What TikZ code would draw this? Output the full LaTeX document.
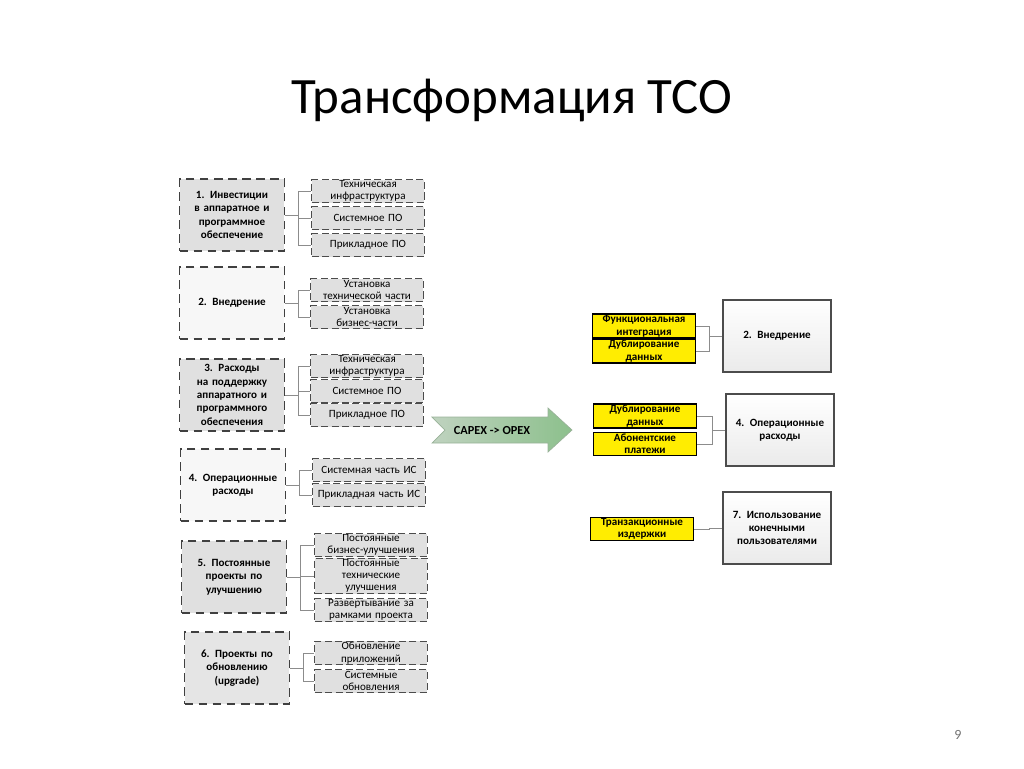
\documentclass[tikz,border=0pt]{standalone}
\usepackage{fontspec}
\setmainfont{Carlito}
\usetikzlibrary{positioning}
\tikzset{
  mainbox/.style={draw=black!75,dashed,dash pattern=on 5pt off 3pt,line width=0.9pt,align=center,
    minimum width=2.1cm,minimum height=1.44cm,text width=1.8cm,font=\fontsize{6.3}{7.6}\selectfont\bfseries},
  subbox/.style={draw=black!70,dash pattern=on 4pt off 2pt,line width=0.8pt,fill=black!12,align=center,
    minimum width=2.26cm,minimum height=0.46cm,text width=2.2cm,inner sep=0.5pt,font=\fontsize{6.3}{7}\selectfont},
  yelbox/.style={draw=black,line width=1pt,fill=yellow!95!orange,align=center,
    minimum width=2.06cm,minimum height=0.46cm,text width=2cm,inner sep=0.5pt,font=\fontsize{6.3}{7}\selectfont\bfseries},
  rbox/.style={draw=black!70,line width=0.7pt,top color=white,bottom color=black!8,align=center,
    minimum width=2.16cm,minimum height=1.44cm,text width=1.9cm,font=\fontsize{6.3}{7.6}\selectfont\bfseries},
  link/.style={draw=black!45,line width=0.5pt}
}
\begin{document}
\begin{tikzpicture}[x=0.02cm,y=-0.02cm]
  % рамка страницы
  \useasboundingbox (0,0) rectangle (1024,768);

  % заголовок
  \node (title) at (512,100) {\fontsize{29}{34}\selectfont Трансформация TCO};

  % левая колонка
  \node[mainbox,fill=black!12] (m1) at (232,215) {1. Инвестиции в аппаратное и программное обеспечение};
  \node[mainbox,fill=black!3] (m2) at (232,303) {2. Внедрение};
  \node[mainbox,fill=black!12] (m3) at (232,395) {3. Расходы на поддержку аппаратного и программного обеспечения};
  \node[mainbox,fill=black!3] (m4) at (233,485) {4. Операционные расходы};
  \node[mainbox,fill=black!12] (m5) at (234,577) {5. Постоянные проекты по улучшению};
  \node[mainbox,fill=black!10] (m6) at (237,668) {6. Проекты по обновлению (upgrade)};

  % подпункты
  \node[subbox] (s11) at (368,191) {Техническая инфраструктура};
  \node[subbox] (s12) at (368,218) {Системное ПО};
  \node[subbox] (s13) at (368,245) {Прикладное ПО};
  \node[subbox] (s21) at (367,290) {Установка технической части};
  \node[subbox] (s22) at (367,317) {Установка бизнес-части};
  \node[subbox] (s31) at (367,366) {Техническая инфраструктура};
  \node[subbox] (s32) at (367,391) {Системное ПО};
  \node[subbox] (s33) at (367,415) {Прикладное ПО};
  \node[subbox] (s41) at (369,470) {Системная часть ИС};
  \node[subbox] (s42) at (369,495) {Прикладная часть ИС};
  \node[subbox] (s51) at (371,545) {Постоянные бизнес-улучшения};
  \node[subbox,minimum height=0.62cm] (s52) at (371,576) {Постоянные технические улучшения};
  \node[subbox] (s53) at (371,610) {Развертывание за рамками проекта};
  \node[subbox] (s61) at (371,653) {Обновление приложений};
  \node[subbox] (s62) at (371,681) {Системные обновления};

  % скобки слева
  \foreach \m/\subs in {m1/{s11,s12,s13},m2/{s21,s22},m3/{s31,s32,s33},m4/{s41,s42},m5/{s51,s52,s53},m6/{s61,s62}}{
    \draw[link] (\m.east) -- ++(13,0) coordinate (j\m);
    \foreach \s in \subs {\draw[link] (j\m) |- (\s.west);}
  }

  % стрелка
  \shade[left color=green!30!black!25,right color=green!45!black!45,draw=green!25!black!40]
    (432,417) -- (548,417) -- (548,408) -- (572,430) -- (548,452) -- (548,443) -- (432,443) -- (445,430) -- cycle;
  \node[font=\fontsize{7}{8}\selectfont\bfseries] (arr) at (492,430) {CAPEX -> OPEX};

  % правая колонка
  \node[yelbox] (y11) at (644,326) {Функциональная интеграция};
  \node[yelbox] (y12) at (644,351) {Дублирование данных};
  \node[rbox] (r2) at (777,336) {2. Внедрение};
  \node[yelbox] (y21) at (645,416) {Дублирование данных};
  \node[yelbox] (y22) at (645,444) {Абонентские платежи};
  \node[rbox] (r4) at (780,430) {4. Операционные расходы};
  \node[yelbox] (y31) at (642,529) {Транзакционные издержки};
  \node[rbox] (r7) at (777,528) {7. Использование конечными пользователями};

  % скобки справа
  \foreach \r/\subs in {r2/{y11,y12},r4/{y21,y22},r7/{y31}}{
    \draw[link] (\r.west) -- ++(-13,0) coordinate (k\r);
    \foreach \s in \subs {\draw[link] (k\r) |- (\s.east);}
  }

  % номер слайда
  \node[text=black!55,font=\fontsize{8}{9}\selectfont] (page) at (958,735) {9};
\end{tikzpicture}
\end{document}
